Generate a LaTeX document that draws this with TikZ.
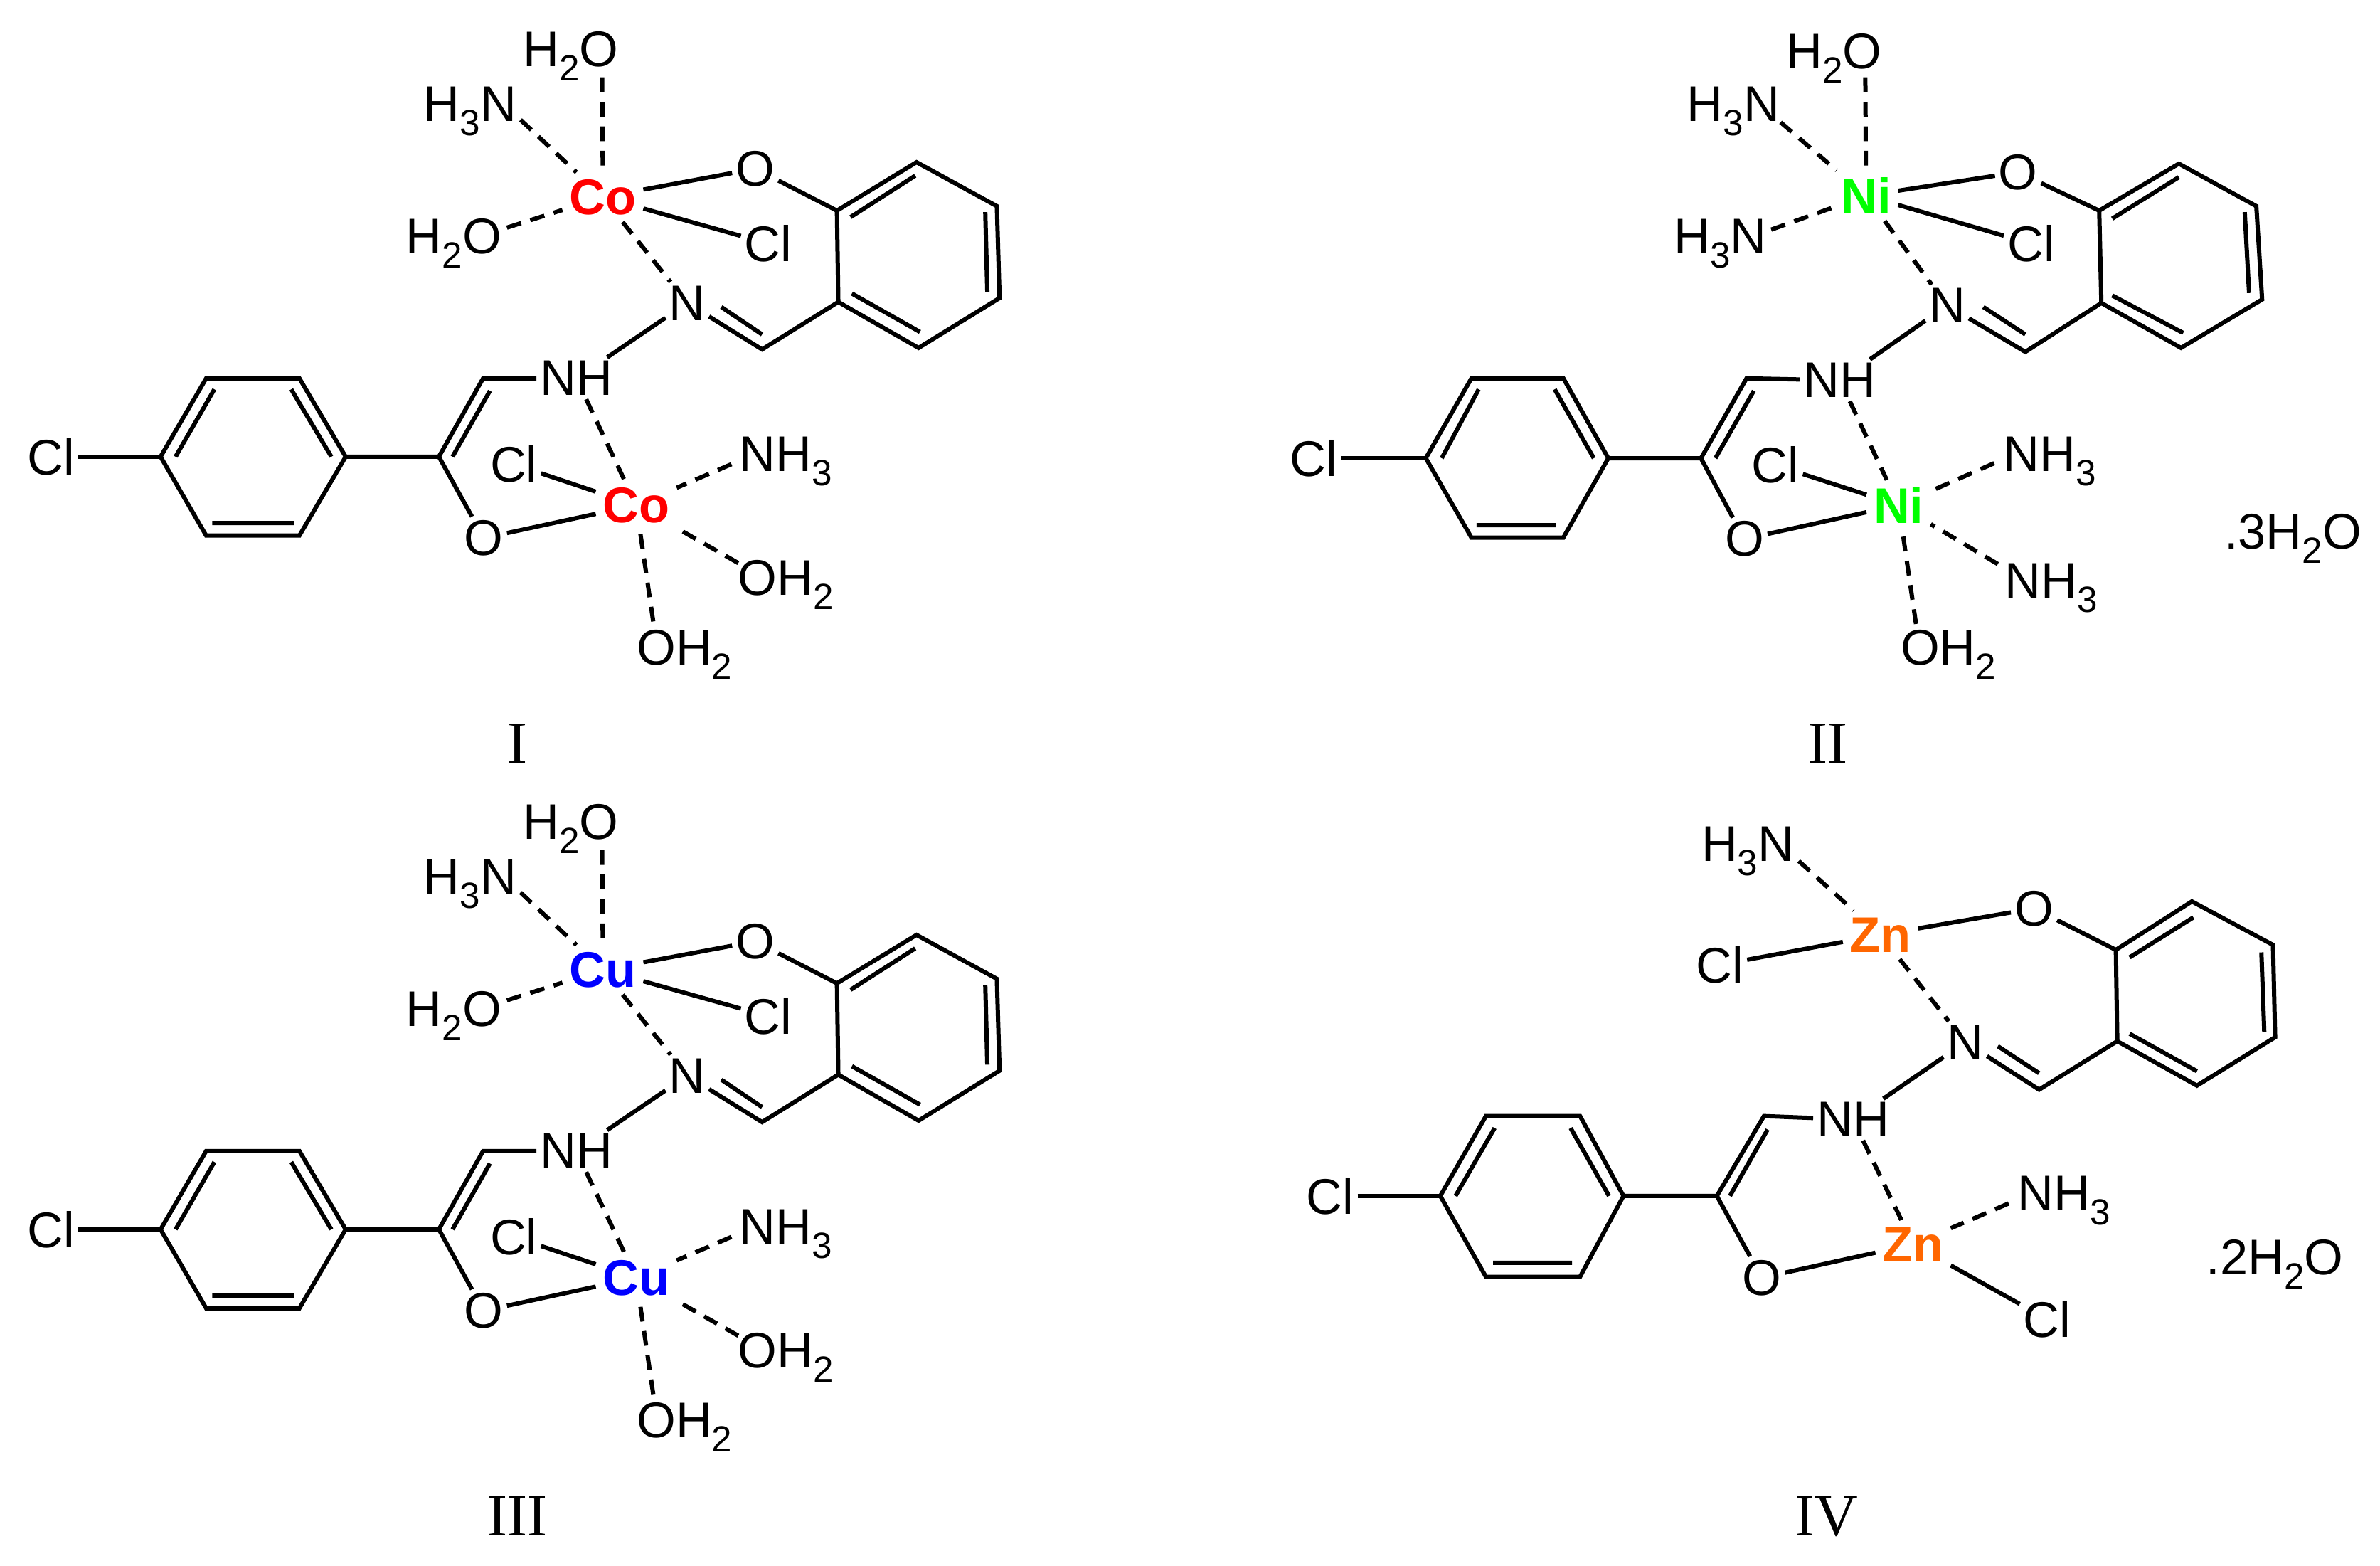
\documentclass[tikz,border=0pt]{standalone}
\usepackage{fontspec}
\setmainfont{Liberation Sans}
\newfontfamily\romfont{Liberation Serif}
\definecolor{mCo}{RGB}{255,0,0}
\definecolor{mCu}{RGB}{0,0,255}
\definecolor{mNi}{RGB}{0,255,0}
\definecolor{mZn}{RGB}{255,102,0}
\newcommand\sbs[1]{\raisebox{-5pt}{\fontsize{12.8}{13}\selectfont #1}}
\tikzset{
  pwide/.style={x=0.23915pt,y=-0.17538pt},
  pnarrow/.style={x=0.25448pt,y=-0.17538pt},
  bd/.style={line width=1.5pt,line join=miter},
  dsh/.style={line width=1.5pt,dash pattern=on 5.2pt off 3.4pt},
  atom/.style={font=\fontsize{17.6}{20}\selectfont,inner sep=1.1pt,anchor=center},
  lig/.style={font=\fontsize{17.6}{20}\selectfont,inner sep=0pt,anchor=base west},
  metal/.style={font=\fontsize{17.6}{20}\selectfont\bfseries,inner sep=2.3pt,anchor=center},
  roman/.style={font=\fontsize{21}{24}\selectfont\romfont,inner sep=0pt,anchor=center},
}
% Panels I and III share one drawing
\newcommand\panelA[5]{%
\begin{scope}[pwide,name prefix=#1-,shift={(0pt,#5)}]
  \coordinate (r1) at (303,758); \coordinate (r2) at (440,758); \coordinate (r3) at (508,915);
  \coordinate (r4) at (440,1073); \coordinate (r5) at (303,1073); \coordinate (r6) at (236,915);
  \coordinate (c2) at (645,915); \coordinate (c3) at (710,758); \coordinate (c4) at (1120,700);
  \coordinate (s1) at (1232,605); \coordinate (s2) at (1230,422); \coordinate (s3) at (1347,325);
  \coordinate (s4) at (1465,413); \coordinate (s5) at (1469,597); \coordinate (s6) at (1350,697);
  \node[atom] (clA) at (75,915) {Cl};
  \node[atom] (oA) at (711,1078) {O};
  \node[atom] (nh) at (847,758) {NH};
  \node[atom] (n) at (1010,607) {N};
  \node[atom] (oB) at (1110,338) {O};
  \node[atom] (clB) at (1129,488) {Cl};
  \node[atom] (clC) at (755,930) {Cl};
  \node[metal,text=#3] (mA) at (886,395) {#2};
  \node[metal,text=#3] (mB) at (935,1012) {#2};
  \node[lig] (lwA) at (768,133) {H\sbs{2}O};
  \node[lig] (laA) at (622,243) {H\sbs{3}N};
  \node[lig] (lwB) at (596,508) {H\sbs{2}O};
  \node[lig] (laB) at (1086,945) {NH\sbs{3}};
  \node[lig] (lwC) at (1084,1193) {OH\sbs{2}};
  \node[lig] (lwD) at (935,1332) {OH\sbs{2}};
  \node[roman] (tag) at (760,1490) {#4};
  \draw[bd] (r1) -- (r2) -- (r3) -- (r4) -- (r5) -- (r6) -- cycle;
  \draw[bd] (258,915) -- (315,780) (428,780) -- (487,915) (312,1048) -- (432,1048);
  \draw[bd] (s1) -- (s2) -- (s3) -- (s4) -- (s5) -- (s6) -- cycle;
  \draw[bd] (1250,435) -- (1345,352) (1448,425) -- (1451,585) (1352,665) -- (1252,588);
  \draw[bd] (clA) -- (r6);
  \draw[bd] (r3) -- (c2) -- (c3) -- (nh);
  \draw[bd] (665,915) -- (720,783);
  \draw[bd] (c2) -- (oA);
  \draw[bd] (oA) -- (mB);
  \draw[bd] (nh) -- (n);
  \draw[bd] (n) -- (c4) -- (s1);
  \draw[bd] (1060,615) -- (1120,670);
  \draw[bd] (oB) -- (s2);
  \draw[bd] (oB) -- (mA);
  \draw[bd] (mA) -- (clB);
  \draw[bd] (clC) -- (mB);
  \draw[dsh] (mA) -- (n);
  \draw[dsh] (nh) -- (mB);
  \draw[dsh] ([shift={(117,22)}]lwA.base west) -- (mA);
  \draw[dsh] ([shift={(143,-3)}]laA.base west) -- (mA);
  \draw[dsh] ([shift={(149,-52)}]lwB.base west) -- (mA);
  \draw[dsh] ([shift={(-11,-15)}]laB.base west) -- (mB);
  \draw[dsh] ([shift={(1,-65)}]lwC.base west) -- (mB);
  \draw[dsh] ([shift={(25,-87)}]lwD.base west) -- (mB);
\end{scope}}
\begin{document}
\begin{tikzpicture}
\useasboundingbox (0pt,0pt) rectangle (836.5pt,-550.25pt);
\fill[white] (0pt,0pt) rectangle (836.5pt,-550.25pt);
\panelA{pI}{Co}{mCo}{I}{0pt}
\panelA{pIII}{Cu}{mCu}{III}{-271.5pt}
% Panel II
\begin{scope}[pnarrow,name prefix=pII-,shift={(437.5pt,0pt)}]
  \coordinate (r1) at (313,758); \coordinate (r2) at (440,758); \coordinate (r3) at (502,918);
  \coordinate (r4) at (440,1077); \coordinate (r5) at (313,1077); \coordinate (r6) at (250,918);
  \coordinate (c2) at (630,918); \coordinate (c3) at (693,758); \coordinate (c4) at (1078,705);
  \coordinate (s1) at (1183,607); \coordinate (s2) at (1180,422); \coordinate (s3) at (1290,328);
  \coordinate (s4) at (1397,413); \coordinate (s5) at (1405,600); \coordinate (s6) at (1293,697);
  \node[atom] (clA) at (95,918) {Cl};
  \node[atom] (oA) at (690,1080) {O};
  \node[atom] (nh) at (822,762) {NH};
  \node[atom] (n) at (970,612) {N};
  \node[atom] (oB) at (1068,345) {O};
  \node[atom] (clB) at (1086,488) {Cl};
  \node[atom] (clC) at (733,932) {Cl};
  \node[metal,text=mNi] (mA) at (858,392) {Ni};
  \node[metal,text=mNi] (mB) at (903,1012) {Ni};
  \node[lig] (lwA) at (747,137) {H\sbs{2}O};
  \node[lig] (laA) at (610,243) {H\sbs{3}N};
  \node[lig] (laB) at (592,508) {H\sbs{3}N};
  \node[lig] (laC) at (1047,945) {NH\sbs{3}};
  \node[lig] (laD) at (1049,1198) {NH\sbs{3}};
  \node[lig] (lwD) at (905,1332) {OH\sbs{2}};
  \node[lig] (hyd) at (1352,1100) {.3H\sbs{2}O};
  \node[roman] (tag) at (805,1490) {II};
  \draw[bd] (r1) -- (r2) -- (r3) -- (r4) -- (r5) -- (r6) -- cycle;
  \draw[bd] (272,918) -- (323,780) (428,780) -- (482,918) (320,1052) -- (430,1052);
  \draw[bd] (s1) -- (s2) -- (s3) -- (s4) -- (s5) -- (s6) -- cycle;
  \draw[bd] (1198,438) -- (1290,355) (1381,425) -- (1387,587) (1296,667) -- (1198,592);
  \draw[bd] (clA) -- (r6);
  \draw[bd] (r3) -- (c2) -- (c3) -- (nh);
  \draw[bd] (650,918) -- (703,783);
  \draw[bd] (c2) -- (oA);
  \draw[bd] (oA) -- (mB);
  \draw[bd] (nh) -- (n);
  \draw[bd] (n) -- (c4) -- (s1);
  \draw[bd] (1020,615) -- (1078,670);
  \draw[bd] (oB) -- (s2);
  \draw[bd] (oB) -- (mA);
  \draw[bd] (mA) -- (clB);
  \draw[bd] (clC) -- (mB);
  \draw[dsh] (mA) -- (n);
  \draw[dsh] (nh) -- (mB);
  \draw[dsh] ([shift={(110,18)}]lwA.base west) -- (mA);
  \draw[dsh] ([shift={(130,2)}]laA.base west) -- (mA);
  \draw[dsh] ([shift={(135,-48)}]laB.base west) -- (mA);
  \draw[dsh] ([shift={(-12,-17)}]laC.base west) -- (mB);
  \draw[dsh] ([shift={(-9,-68)}]laD.base west) -- (mB);
  \draw[dsh] ([shift={(22,-82)}]lwD.base west) -- (mB);
\end{scope}
% Panel IV
\begin{scope}[pnarrow,name prefix=pIV-,shift={(437.5pt,-275pt)}]
  \coordinate (r1) at (333,668); \coordinate (r2) at (463,668); \coordinate (r3) at (523,828);
  \coordinate (r4) at (463,990); \coordinate (r5) at (333,990); \coordinate (r6) at (270,828);
  \coordinate (c2) at (652,828); \coordinate (c3) at (717,668); \coordinate (c4) at (1097,615);
  \coordinate (s1) at (1205,518); \coordinate (s2) at (1203,335); \coordinate (s3) at (1308,238);
  \coordinate (s4) at (1420,325); \coordinate (s5) at (1423,510); \coordinate (s6) at (1315,607);
  \node[atom] (clA) at (118,828) {Cl};
  \node[atom] (oA) at (714,992) {O};
  \node[atom] (nh) at (840,675) {NH};
  \node[atom] (n) at (995,520) {N};
  \node[atom] (oB) at (1090,252) {O};
  \node[atom] (clB) at (656,365) {Cl};
  \node[atom] (clC) at (1108,1075) {Cl};
  \node[metal,text=mZn] (mA) at (878,305) {Zn};
  \node[metal,text=mZn] (mB) at (923,925) {Zn};
  \node[lig] (laA) at (630,157) {H\sbs{3}N};
  \node[lig] (laC) at (1067,858) {NH\sbs{3}};
  \node[lig] (hyd) at (1327,985) {.2H\sbs{2}O};
  \node[roman] (tag) at (803,1470) {IV};
  \draw[bd] (r1) -- (r2) -- (r3) -- (r4) -- (r5) -- (r6) -- cycle;
  \draw[bd] (291,828) -- (345,692) (450,692) -- (503,828) (343,962) -- (452,962);
  \draw[bd] (s1) -- (s2) -- (s3) -- (s4) -- (s5) -- (s6) -- cycle;
  \draw[bd] (1222,350) -- (1310,270) (1404,340) -- (1408,500) (1315,578) -- (1222,503);
  \draw[bd] (clA) -- (r6);
  \draw[bd] (r3) -- (c2) -- (c3) -- (nh);
  \draw[bd] (670,828) -- (722,695);
  \draw[bd] (c2) -- (oA);
  \draw[bd] (oA) -- (mB);
  \draw[bd] (nh) -- (n);
  \draw[bd] (n) -- (c4) -- (s1);
  \draw[bd] (1040,528) -- (1097,582);
  \draw[bd] (oB) -- (s2);
  \draw[bd] (oB) -- (mA);
  \draw[bd] (clB) -- (mA);
  \draw[bd] (mB) -- (clC);
  \draw[dsh] (mA) -- (n);
  \draw[dsh] (nh) -- (mB);
  \draw[dsh] ([shift={(135,0)}]laA.base west) -- (mA);
  \draw[dsh] ([shift={(-12,-15)}]laC.base west) -- (mB);
\end{scope}
\end{tikzpicture}
\end{document}
